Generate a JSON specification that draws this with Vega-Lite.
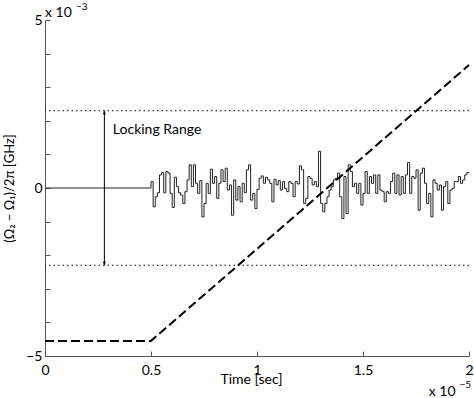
{
  "$schema": "https://vega.github.io/schema/vega-lite/v6.json",
  "width": 424,
  "height": 336,
  "autosize": {"type": "none"},
  "padding": {"left": 45, "top": 20, "right": 5, "bottom": 42},
  "config": {
    "view": {"stroke": null},
    "font": "Lato",
    "axis": {
      "grid": false,
      "domainColor": "#555",
      "tickColor": "#555",
      "labelColor": "#000",
      "titleColor": "#000",
      "labelFont": "Lato",
      "titleFont": "Lato",
      "labelFontSize": 14,
      "titleFontSize": 14,
      "titleFontWeight": "normal",
      "labelOverlap": false,
      "labelFlush": false
    }
  },
  "layer": [
    {
      "data": {"values": [
        {"t": 0, "v": 0},
        {"t": 5.0e-6, "v": 1.9e-4}, {"t": 5.1e-6, "v": -5.6e-4}, {"t": 5.2e-6, "v": -2.6e-4}, {"t": 5.3e-6, "v": -1.4e-4},
        {"t": 5.4e-6, "v": 3.9e-4}, {"t": 5.5e-6, "v": 4.6e-4}, {"t": 5.6e-6, "v": -1.4e-4}, {"t": 5.7e-6, "v": 4.9e-4},
        {"t": 5.8e-6, "v": 4.4e-4}, {"t": 5.9e-6, "v": -1.6e-4}, {"t": 6.0e-6, "v": -5.8e-4}, {"t": 6.1e-6, "v": 3.2e-4},
        {"t": 6.2e-6, "v": 4e-5}, {"t": 6.3e-6, "v": -1.4e-4}, {"t": 6.4e-6, "v": -2.1e-4}, {"t": 6.5e-6, "v": -4.6e-4},
        {"t": 6.6e-6, "v": -1.1e-4}, {"t": 6.7e-6, "v": 2.4e-4}, {"t": 6.8e-6, "v": 6.9e-4}, {"t": 6.9e-6, "v": 4e-5},
        {"t": 7.0e-6, "v": 6.9e-4}, {"t": 7.1e-6, "v": 1.4e-4}, {"t": 7.2e-6, "v": -1.6e-4}, {"t": 7.3e-6, "v": 2.2e-4},
        {"t": 7.4e-6, "v": -8.6e-4}, {"t": 7.5e-6, "v": -4.6e-4}, {"t": 7.6e-6, "v": 1.4e-4}, {"t": 7.7e-6, "v": -1.6e-4},
        {"t": 7.8e-6, "v": 5.6e-4}, {"t": 7.9e-6, "v": 1.4e-4}, {"t": 8.0e-6, "v": 3.4e-4}, {"t": 8.1e-6, "v": -3.1e-4},
        {"t": 8.2e-6, "v": 1.4e-4}, {"t": 8.3e-6, "v": 5.4e-4}, {"t": 8.4e-6, "v": 1.9e-4}, {"t": 8.5e-6, "v": 5.9e-4},
        {"t": 8.6e-6, "v": -6e-5},
        {"t": 8.7e-6, "v": 9e-5}, {"t": 8.8e-6, "v": -8.1e-4}, {"t": 8.9e-6, "v": 2.4e-4}, {"t": 9.0e-6, "v": -3.6e-4},
        {"t": 9.1e-6, "v": 4e-5}, {"t": 9.2e-6, "v": -4.1e-4}, {"t": 9.3e-6, "v": 1.4e-4}, {"t": 9.4e-6, "v": -1.4e-4},
        {"t": 9.5e-6, "v": 5.4e-4}, {"t": 9.6e-6, "v": 6.9e-4}, {"t": 9.7e-6, "v": -3.6e-4}, {"t": 9.8e-6, "v": -1.6e-4},
        {"t": 9.9e-6, "v": -6.1e-4}, {"t": 1.00e-5, "v": -4e-5}, {"t": 1.01e-5, "v": 2.9e-4}, {"t": 1.02e-5, "v": 3.6e-4},
        {"t": 1.03e-5, "v": 1.4e-4}, {"t": 1.04e-5, "v": 3.2e-4}, {"t": 1.05e-5, "v": 2.4e-4}, {"t": 1.06e-5, "v": 1.4e-4},
        {"t": 1.07e-5, "v": -4.1e-4}, {"t": 1.08e-5, "v": 2.6e-4}, {"t": 1.09e-5, "v": 9e-5}, {"t": 1.10e-5, "v": 2.2e-4},
        {"t": 1.11e-5, "v": -6e-5}, {"t": 1.12e-5, "v": 1.9e-4}, {"t": 1.13e-5, "v": -1e-5}, {"t": 1.14e-5, "v": -1.1e-4},
        {"t": 1.15e-5, "v": 1.9e-4}, {"t": 1.16e-5, "v": 1.4e-4}, {"t": 1.17e-5, "v": -2.6e-4}, {"t": 1.18e-5, "v": 1.9e-4},
        {"t": 1.19e-5, "v": 1.2e-4}, {"t": 1.20e-5, "v": 6.6e-4}, {"t": 1.21e-5, "v": 5.4e-4}, {"t": 1.22e-5, "v": -4.6e-4},
        {"t": 1.23e-5, "v": -3.1e-4}, {"t": 1.24e-5, "v": 3.4e-4},
        {"t": 1.25e-5, "v": 2.9e-4}, {"t": 1.26e-5, "v": 9e-5}, {"t": 1.27e-5, "v": 1.9e-4}, {"t": 1.28e-5, "v": 4e-5},
        {"t": 1.29e-5, "v": 1.09e-3}, {"t": 1.30e-5, "v": -4.6e-4}, {"t": 1.31e-5, "v": -7.1e-4}, {"t": 1.32e-5, "v": -4.6e-4},
        {"t": 1.33e-5, "v": -2.6e-4}, {"t": 1.34e-5, "v": -6e-5}, {"t": 1.35e-5, "v": 4e-5}, {"t": 1.36e-5, "v": 2.4e-4},
        {"t": 1.37e-5, "v": 2.9e-4}, {"t": 1.38e-5, "v": 4.4e-4}, {"t": 1.39e-5, "v": -2.6e-4}, {"t": 1.40e-5, "v": -9.1e-4},
        {"t": 1.41e-5, "v": 3.4e-4}, {"t": 1.42e-5, "v": -7.6e-4}, {"t": 1.43e-5, "v": 6.9e-4}, {"t": 1.44e-5, "v": 4.9e-4},
        {"t": 1.45e-5, "v": 4e-5}, {"t": 1.46e-5, "v": 1.4e-4}, {"t": 1.47e-5, "v": -1.6e-4}, {"t": 1.48e-5, "v": 1.4e-4},
        {"t": 1.49e-5, "v": -5.1e-4}, {"t": 1.50e-5, "v": -1.6e-4}, {"t": 1.51e-5, "v": 4.9e-4}, {"t": 1.52e-5, "v": -1.6e-4},
        {"t": 1.53e-5, "v": 3.4e-4}, {"t": 1.54e-5, "v": 1.4e-4}, {"t": 1.55e-5, "v": 3.9e-4}, {"t": 1.56e-5, "v": -1.6e-4},
        {"t": 1.57e-5, "v": 3.9e-4}, {"t": 1.58e-5, "v": -6e-5}, {"t": 1.59e-5, "v": -1.1e-4}, {"t": 1.60e-5, "v": -4.1e-4},
        {"t": 1.61e-5, "v": -1.1e-4}, {"t": 1.62e-5, "v": -1.6e-4}, {"t": 1.63e-5, "v": 1.9e-4},
        {"t": 1.64e-5, "v": 4.4e-4}, {"t": 1.65e-5, "v": -1.6e-4}, {"t": 1.66e-5, "v": 3.9e-4}, {"t": 1.67e-5, "v": -2.1e-4},
        {"t": 1.68e-5, "v": 3.4e-4}, {"t": 1.69e-5, "v": -1.6e-4}, {"t": 1.70e-5, "v": 3.9e-4}, {"t": 1.71e-5, "v": 7.6e-4},
        {"t": 1.72e-5, "v": -1.6e-4}, {"t": 1.73e-5, "v": 3.4e-4}, {"t": 1.74e-5, "v": 2.9e-4}, {"t": 1.75e-5, "v": 5.4e-4},
        {"t": 1.76e-5, "v": -6.6e-4}, {"t": 1.77e-5, "v": 4.4e-4}, {"t": 1.78e-5, "v": 5.9e-4}, {"t": 1.79e-5, "v": 1.4e-4},
        {"t": 1.80e-5, "v": -4.6e-4}, {"t": 1.81e-5, "v": -1.6e-4}, {"t": 1.82e-5, "v": -8.6e-4}, {"t": 1.83e-5, "v": 2.4e-4},
        {"t": 1.84e-5, "v": 1.4e-4}, {"t": 1.85e-5, "v": -6e-5}, {"t": 1.86e-5, "v": 9e-5}, {"t": 1.87e-5, "v": -6.6e-4},
        {"t": 1.88e-5, "v": 4e-5}, {"t": 1.89e-5, "v": 1.9e-4}, {"t": 1.90e-5, "v": -4.6e-4}, {"t": 1.91e-5, "v": -6e-5},
        {"t": 1.92e-5, "v": -1e-5}, {"t": 1.93e-5, "v": 1.9e-4}, {"t": 1.94e-5, "v": 1.9e-4}, {"t": 1.95e-5, "v": 3.4e-4},
        {"t": 1.96e-5, "v": 1.4e-4}, {"t": 1.97e-5, "v": 2.4e-4}, {"t": 1.98e-5, "v": 3.9e-4}, {"t": 1.99e-5, "v": 4.6e-4},
        {"t": 2.0e-5, "v": 4.6e-4}
      ]},
      "mark": {"type": "line", "interpolate": "step-after", "color": "#222", "strokeWidth": 1},
      "encoding": {
        "x": {
          "field": "t", "type": "quantitative",
          "scale": {"domain": [0, 2e-5], "nice": false, "zero": false},
          "title": "Time [sec]",
          "axis": {
            "values": [0, 5e-6, 1e-5, 1.5e-5, 2e-5],
            "tickCount": 20,
            "labelExpr": "format(datum.value*1e5, '~g')",
            "tickSize": -5,
            "labelPadding": 12,
            "titlePadding": -5,
            "titleX": 206,
            "labelOverlap": false
          }
        },
        "y": {
          "field": "v", "type": "quantitative",
          "scale": {"domain": [-0.005, 0.005], "nice": false},
          "title": "(Ω₂ − Ω₁)/2π [GHz]",
          "axis": {
            "values": [-0.005, -0.004, -0.003, -0.002, -0.001, 0, 0.001, 0.002, 0.003, 0.004, 0.005],
            "tickCount": 20,
            "labelExpr": "datum.value > 0.0045 ? '5' : (datum.value < -0.0045 ? '−5' : (abs(datum.value) < 0.0005 ? '0' : ''))",
            "tickSize": -5,
            "labelPadding": 8,
            "titlePadding": 9,
            "titleFontSize": 13,
            "labelOverlap": false
          }
        }
      }
    },
    {
      "data": {"values": [{"v": 0.0023}, {"v": -0.0023}]},
      "mark": {"type": "rule", "color": "#000", "strokeWidth": 1, "strokeDash": [1.5, 3]},
      "encoding": {
        "y": {"field": "v", "type": "quantitative", "scale": {"domain": [-0.005, 0.005], "nice": false}}
      }
    },
    {
      "data": {"values": [{"t": 0, "v": -0.00455}, {"t": 5e-6, "v": -0.00455}, {"t": 2e-5, "v": 0.00366}]},
      "mark": {"type": "line", "color": "#000", "strokeWidth": 2, "strokeDash": [9, 4]},
      "encoding": {
        "x": {"field": "t", "type": "quantitative", "scale": {"domain": [0, 2e-5], "nice": false, "zero": false}},
        "y": {"field": "v", "type": "quantitative", "scale": {"domain": [-0.005, 0.005], "nice": false}}
      }
    },
    {
      "data": {"values": [{"t": 2.8e-6, "v": 0.0023, "v2": -0.0023}]},
      "mark": {"type": "rule", "color": "#000", "strokeWidth": 1},
      "encoding": {
        "x": {"field": "t", "type": "quantitative", "scale": {"domain": [0, 2e-5], "nice": false, "zero": false}},
        "y": {"field": "v", "type": "quantitative", "scale": {"domain": [-0.005, 0.005], "nice": false}},
        "y2": {"field": "v2"}
      }
    },
    {
      "data": {"values": [{"t": 2.8e-6, "v": 0.0023}]},
      "mark": {"type": "point", "shape": "M0,0L-0.45,1L0.45,1Z", "size": 49, "filled": true, "color": "#000", "opacity": 1},
      "encoding": {
        "x": {"field": "t", "type": "quantitative", "scale": {"domain": [0, 2e-5], "nice": false, "zero": false}},
        "y": {"field": "v", "type": "quantitative", "scale": {"domain": [-0.005, 0.005], "nice": false}}
      }
    },
    {
      "data": {"values": [{"t": 2.8e-6, "v": -0.0023}]},
      "mark": {"type": "point", "shape": "M0,0L-0.45,-1L0.45,-1Z", "size": 49, "filled": true, "color": "#000", "opacity": 1},
      "encoding": {
        "x": {"field": "t", "type": "quantitative", "scale": {"domain": [0, 2e-5], "nice": false, "zero": false}},
        "y": {"field": "v", "type": "quantitative", "scale": {"domain": [-0.005, 0.005], "nice": false}}
      }
    },
    {
      "data": {"values": [{"t": 3.2e-6, "v": 0.00173, "label": "Locking Range"}]},
      "mark": {"type": "text", "align": "left", "baseline": "middle", "fontSize": 14, "font": "Lato", "color": "#000"},
      "encoding": {
        "x": {"field": "t", "type": "quantitative", "scale": {"domain": [0, 2e-5], "nice": false, "zero": false}},
        "y": {"field": "v", "type": "quantitative", "scale": {"domain": [-0.005, 0.005], "nice": false}},
        "text": {"field": "label"}
      }
    },
    {
      "data": {"values": [
        {"t": 0, "v": 0.00522, "label": "x 10"},
        {"t": 1.81e-5, "v": -0.00607, "label": "x 10"}
      ]},
      "mark": {"type": "text", "align": "left", "baseline": "middle", "fontSize": 14, "font": "Lato", "color": "#000"},
      "encoding": {
        "x": {"field": "t", "type": "quantitative", "scale": {"domain": [0, 2e-5], "nice": false, "zero": false}},
        "y": {"field": "v", "type": "quantitative", "scale": {"domain": [-0.005, 0.005], "nice": false}},
        "text": {"field": "label"}
      }
    },
    {
      "data": {"values": [
        {"t": 1.46e-6, "v": 0.0054, "label": "−3"},
        {"t": 1.955e-5, "v": -0.00586, "label": "−5"}
      ]},
      "mark": {"type": "text", "align": "left", "baseline": "middle", "fontSize": 10, "font": "Lato", "color": "#000"},
      "encoding": {
        "x": {"field": "t", "type": "quantitative", "scale": {"domain": [0, 2e-5], "nice": false, "zero": false}},
        "y": {"field": "v", "type": "quantitative", "scale": {"domain": [-0.005, 0.005], "nice": false}},
        "text": {"field": "label"}
      }
    }
  ]
}
